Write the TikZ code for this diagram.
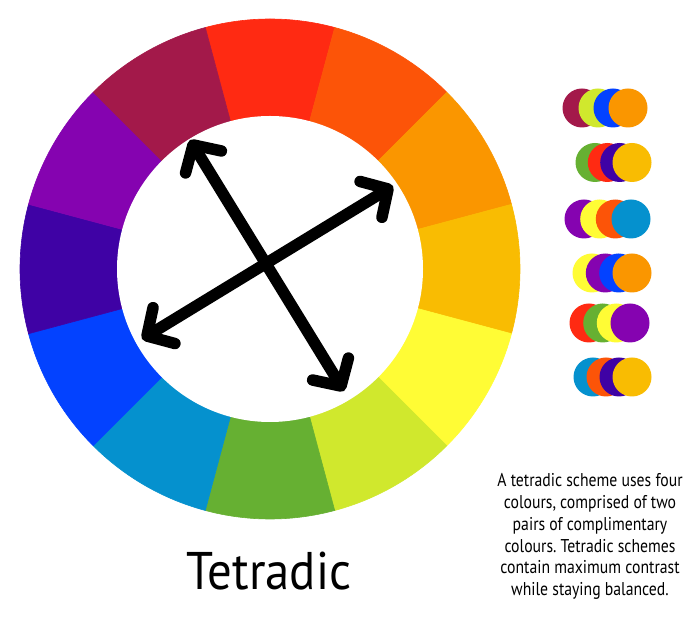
\documentclass[tikz,border=0pt]{standalone}
\usepackage{fontspec}
\setmainfont{PT Sans}
\newfontfamily\parafont[FakeStretch=0.85]{PT Sans}
\newfontfamily\titlefont[FakeStretch=0.92]{PT Sans}
\usetikzlibrary{arrows.meta}
\frenchspacing
\definecolor{cR}{RGB}{255,42,18}
\definecolor{cRO}{RGB}{252,84,8}
\definecolor{cO}{RGB}{250,150,0}
\definecolor{cYO}{RGB}{249,188,2}
\definecolor{cY}{RGB}{255,252,53}
\definecolor{cYG}{RGB}{208,232,45}
\definecolor{cG}{RGB}{102,176,50}
\definecolor{cT}{RGB}{5,145,206}
\definecolor{cB}{RGB}{3,66,255}
\definecolor{cI}{RGB}{63,2,165}
\definecolor{cV}{RGB}{133,3,176}
\definecolor{cRV}{RGB}{163,25,74}
\tikzset{
  arrowline/.style={line width=11.5pt,
    {Straight Barb[round,length=20pt,width=42pt]}-{Straight Barb[round,length=20pt,width=42pt]}},
  swatch/.style={fill=#1, draw=none},
  paraline/.style={font=\parafont\fontsize{18.5}{21.7}\selectfont, anchor=base, inner sep=0pt}
}
\begin{document}
\begin{tikzpicture}[x=1pt,y=1pt]
\useasboundingbox (0,0) rectangle (696,629);
\fill[white] (0,0) rectangle (696,629);
\coordinate (c) at (270,360);
\foreach \col [count=\i from 0] in {cR,cRO,cO,cYO,cY,cYG,cG,cT,cB,cI,cV,cRV}{
  \pgfmathsetmacro\aa{105-30*\i}
  \pgfmathsetmacro\bb{75-30*\i}
  \filldraw[fill=\col, draw=\col, line width=0.6pt] (c) -- ++(\aa:250) arc[start angle=\aa, end angle=\bb, radius=250] -- cycle;
}
\fill[white] (c) circle[radius=153];
% arrows
\coordinate (t1) at (190,489);
\coordinate (t2) at (344,238);
\coordinate (t3) at (393,443);
\coordinate (t4) at (142,290);
\draw[arrowline] (t1) -- (t2);
\draw[arrowline] (t3) -- (t4);
% swatches
\foreach \y/\xa/\xb/\xc/\xd/\ca/\cb/\cc/\cd in {
  521/582/598/613/628/cRV/cYG/cB/cO,
  466.5/595/607.3/619.7/632/cG/cR/cI/cYO,
  410/584/599.7/615.3/631/cV/cY/cRO/cT,
  356/592/605.3/618.7/632/cY/cV/cB/cO,
  306/589/602.7/616.3/630/cR/cG/cY/cV,
  252/593/606/619/632/cT/cRO/cI/cYO}{
  \fill[swatch=\ca] (\xa,\y) circle[radius=19.5];
  \fill[swatch=\cb] (\xb,\y) circle[radius=19.5];
  \fill[swatch=\cc] (\xc,\y) circle[radius=19.5];
  \fill[swatch=\cd] (\xd,\y) circle[radius=19.5];
}
% texts
\node (title) [anchor=base, inner sep=0pt, font=\titlefont\fontsize{53}{60}\selectfont] at (269,39) {Tetradic};
\foreach \t [count=\k] / \yy in {A tetradic scheme uses four/142, colours{,} comprised of two/120.3, pairs of complimentary/98.6, colours. Tetradic schemes/76.9, contain maximum contrast/55.2, while staying balanced./33.5}{
  \node (p\k) [paraline] at (590,\yy) {\t};
}
\end{tikzpicture}
\end{document}
